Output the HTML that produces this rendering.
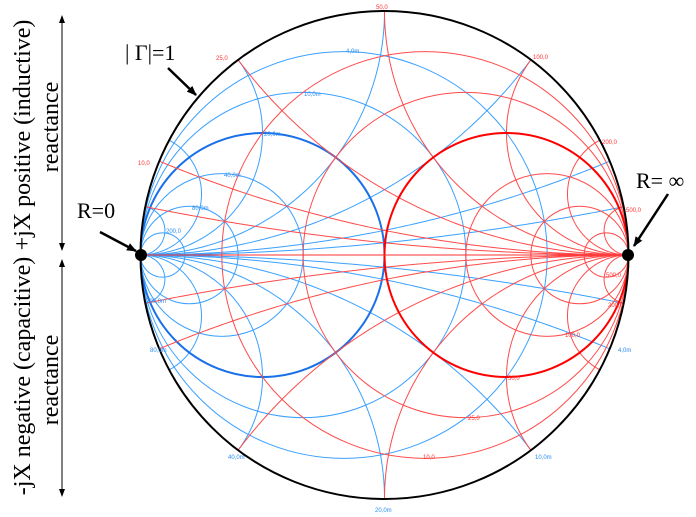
<!DOCTYPE html>
<html><head><meta charset="utf-8"><style>
html,body{margin:0;padding:0;background:#fff;}
svg{display:block;}
.t{font-family:"Liberation Serif",serif;font-size:22px;fill:#000;}
.tl{font-family:"Liberation Serif",serif;font-size:24px;fill:#000;}
.r{font-family:"Liberation Sans",sans-serif;font-size:6px;fill:#ff3030;}
.b{font-family:"Liberation Sans",sans-serif;font-size:6px;fill:#2a8cf0;}
</style></head><body>
<svg id="s" width="696" height="517" viewBox="0 0 696 517" xmlns="http://www.w3.org/2000/svg">
<defs>
<clipPath id="cp"><circle cx="384.5" cy="255" r="244"/></clipPath>
<marker id="ah" markerWidth="10" markerHeight="10" refX="9" refY="5" orient="auto" markerUnits="userSpaceOnUse"><path d="M0,1 L10,5 L0,9 Z" fill="#000"/></marker>
<marker id="as" markerWidth="8" markerHeight="8" refX="7" refY="4" orient="auto-start-reverse" markerUnits="userSpaceOnUse"><path d="M0,1 L8,4 L0,7 Z" fill="#000"/></marker>
</defs>
<g id="grid" clip-path="url(#cp)"></g>
<circle cx="384.5" cy="255" r="244" fill="none" stroke="#000" stroke-width="2"/>
<line x1="141" y1="255" x2="628" y2="255" stroke="#ff3030" stroke-width="1"/>
<circle cx="141" cy="255" r="6" fill="#000"/>
<circle cx="628" cy="255" r="6" fill="#000"/>
<text class="r" x="138" y="165">10,0</text>
<text class="r" x="216" y="60">25,0</text>
<text class="r" x="376" y="9">50,0</text>
<text class="r" x="533" y="59">100,0</text>
<text class="r" x="602" y="144">200,0</text>
<text class="r" x="626" y="212">500,0</text>
<text class="r" x="606" y="277">500,0</text>
<text class="r" x="608" y="307">200,0</text>
<text class="r" x="565" y="337">100,0</text>
<text class="r" x="508" y="380">50,0</text>
<text class="r" x="468" y="420">25,0</text>
<text class="r" x="423" y="459">10,0</text>
<text class="b" x="346" y="53">4,0m</text>
<text class="b" x="304" y="96">10,0m</text>
<text class="b" x="264" y="136">20,0m</text>
<text class="b" x="224" y="177">40,0m</text>
<text class="b" x="192" y="210">80,0m</text>
<text class="b" x="166" y="233">200,0</text>
<text class="b" x="146" y="303">200,0m</text>
<text class="b" x="150" y="352">80,0m</text>
<text class="b" x="228" y="459">40,0m</text>
<text class="b" x="375" y="512">20,0m</text>
<text class="b" x="535" y="459">10,0m</text>
<text class="b" x="618" y="352">4,0m</text>
<line x1="62" y1="16" x2="62" y2="250" stroke="#000" stroke-width="1" marker-start="url(#as)" marker-end="url(#as)"/>
<line x1="62" y1="260" x2="62" y2="496" stroke="#000" stroke-width="1" marker-start="url(#as)" marker-end="url(#as)"/>
<text class="tl" transform="translate(30,135) rotate(-90)" text-anchor="middle">+jX positive (inductive)</text>
<text class="tl" transform="translate(58,127) rotate(-90)" text-anchor="middle">reactance</text>
<text class="tl" transform="translate(30,376) rotate(-90)" text-anchor="middle">-jX negative (capacitive)</text>
<text class="tl" transform="translate(58,380) rotate(-90)" text-anchor="middle">reactance</text>
<text class="t" x="125" y="60">| Γ|=1</text>
<line x1="168" y1="68" x2="196" y2="95" stroke="#000" stroke-width="2.5" marker-end="url(#ah)"/>
<text class="t" x="77" y="218">R=0</text>
<line x1="100" y1="232" x2="136" y2="251" stroke="#000" stroke-width="2.5" marker-end="url(#ah)"/>
<text class="t" x="636" y="188">R= ∞</text>
<line x1="668" y1="194" x2="634" y2="246" stroke="#000" stroke-width="2.5" marker-end="url(#ah)"/>
</svg>
<script>
(function(){
var cx=384.5,cy=255,R=244,g=document.getElementById('grid'),NS='http://www.w3.org/2000/svg';
function add(tag,at){var e=document.createElementNS(NS,tag);for(var k in at)e.setAttribute(k,at[k]);g.appendChild(e);}
var RED='#ff4a4a',BLUE='#3aa0ff',BR='#ff0000',BB='#1a70e8';
var vals=[0.2,0.5,1,2,4,10];
function rc(r,mir,col,w){var c=r/(r+1),rad=1/(r+1);add('circle',{cx:cx+(mir?-c:c)*R,cy:cy,r:rad*R,fill:'none',stroke:col,'stroke-width':w});}
function xa(x,mir,col,w){var d='';for(var i=0;i<=300;i++){var r=i==0?0:Math.pow(10,-3+6*i/300);var den=(r+1)*(r+1)+x*x;var gx=(r*r-1+x*x)/den,gy=2*x/den;if(mir)gx=-gx;d+=(i?'L':'M')+(cx+gx*R).toFixed(2)+','+(cy-gy*R).toFixed(2);}add('path',{d:d,fill:'none',stroke:col,'stroke-width':w});}
var xs=[0.1,0.2,0.5,1,2,4,10];
xs.forEach(function(x){xa(x,true,BLUE,1);xa(-x,true,BLUE,1);});
vals.forEach(function(v){rc(v,true,v==1?BB:BLUE,v==1?2:1);});
xs.forEach(function(x){xa(x,false,RED,1);xa(-x,false,RED,1);});
vals.forEach(function(v){rc(v,false,v==1?BR:RED,v==1?2:1);});
})();
</script>
</body></html>
